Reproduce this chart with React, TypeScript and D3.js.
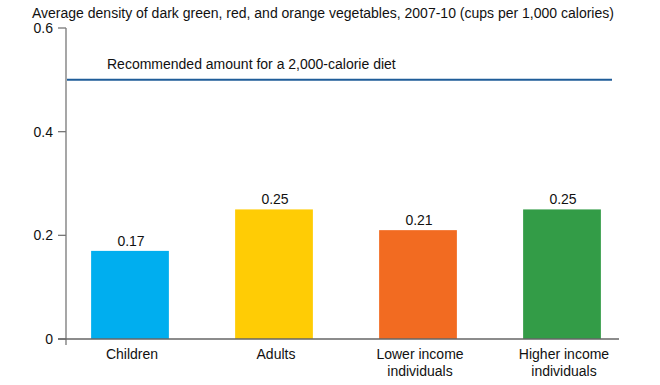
import { useMemo } from "react";
import * as d3 from "d3";

const WIDTH = 660;
const HEIGHT = 385;

const categories = ["Children", "Adults", "Lower income\nindividuals", "Higher income\nindividuals"];
const values = [0.17, 0.25, 0.21, 0.25];
const colors = ["#00aeef", "#ffcc05", "#f26b21", "#339c47"];
const yTicks = [0, 0.2, 0.4, 0.6];
const recommended = 0.5;

const FONT = "'Liberation Sans', Arial, Helvetica, sans-serif";

export default function App() {
  const { x, y } = useMemo(() => {
    const x = d3
      .scaleBand<string>()
      .domain(categories)
      .range([58, 634])
      .paddingInner(0.46)
      .paddingOuter(0.23);
    const y = d3.scaleLinear().domain([0, 0.6]).range([339, 28]);
    return { x, y };
  }, []);

  return (
    <svg
      width={WIDTH}
      height={HEIGHT}
      style={{ position: "absolute", left: 0, top: 0, fontFamily: FONT }}
    >
      <rect width={WIDTH} height={HEIGHT} fill="#fff" />

      {/* title */}
      <text x={32} y={18} fontSize={14} fill="#111">
        Average density of dark green, red, and orange vegetables, 2007-10 (cups per 1,000 calories)
      </text>

      {/* bars */}
      {categories.map((c, i) => (
        <g key={c}>
          <rect
            x={x(c)}
            y={y(values[i])}
            width={x.bandwidth()}
            height={y(0) - y(values[i])}
            fill={colors[i]}
          />
          <text
            x={(x(c) ?? 0) + x.bandwidth() / 2 + 1}
            y={y(values[i]) - 5}
            textAnchor="middle"
            fontSize={14}
            fill="#111"
          >
            {values[i].toFixed(2)}
          </text>
          {c.split("\n").map((line, j) => (
            <text
              key={line}
              x={(x(c) ?? 0) + x.bandwidth() / 2 + 2}
              y={359 + j * 17}
              textAnchor="middle"
              fontSize={14}
              fill="#111"
            >
              {line}
            </text>
          ))}
        </g>
      ))}

      {/* y axis */}
      <line x1={66} x2={66} y1={y(0.6)} y2={345} stroke="#777" strokeWidth={1.3} />
      {yTicks.map((t) => (
        <g key={t}>
          <line x1={58} x2={66} y1={y(t)} y2={y(t)} stroke="#777" strokeWidth={1.3} />
          <text
            x={53}
            y={y(t)}
            dy="0.35em"
            textAnchor="end"
            fontSize={14}
            fill="#111"
          >
            {t === 0 ? "0" : t.toFixed(1)}
          </text>
        </g>
      ))}

      {/* baseline */}
      <line x1={58} x2={619} y1={y(0)} y2={y(0)} stroke="#666" strokeWidth={1.3} />

      {/* recommended line */}
      <line
        x1={67}
        x2={612}
        y1={y(recommended)}
        y2={y(recommended)}
        stroke="#1f5c99"
        strokeWidth={2}
      />
      <text x={107} y={y(recommended) - 11} fontSize={14} fill="#111">
        Recommended amount for a 2,000-calorie diet
      </text>
    </svg>
  );
}
